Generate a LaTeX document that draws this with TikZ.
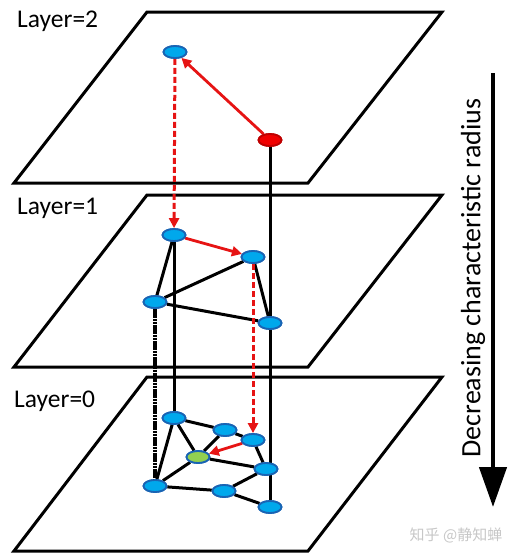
\documentclass[tikz,border=0pt]{standalone}
\usepackage{fontspec}
\setmainfont{Carlito}
\newfontfamily\cjk{Noto Sans CJK SC}
\usetikzlibrary{shapes.geometric,arrows.meta}
\definecolor{nodeblue}{RGB}{0,168,236}
\definecolor{nodeedge}{RGB}{25,100,180}
\definecolor{nodered}{RGB}{240,0,0}
\definecolor{rededge}{RGB}{190,0,0}
\definecolor{nodegreen}{RGB}{146,208,80}
\definecolor{arrred}{RGB}{230,20,20}
\tikzset{
  plane/.style={draw=black,line width=3pt,line join=miter},
  vnode/.style={ellipse,draw=nodeedge,fill=nodeblue,line width=1.8pt,minimum width=23pt,minimum height=12pt,inner sep=0pt},
  rnode/.style={vnode,draw=rededge,fill=nodered},
  gnode/.style={vnode,fill=nodegreen},
  edge/.style={draw=black,line width=3pt},
  vline/.style={draw=black,line width=3pt},
  dotline/.style={draw=black,line width=3.2pt,dash pattern=on 2.6pt off 0.6pt},
  search/.style={draw=arrred,line width=2.8pt,-{Triangle[width=10pt,length=10pt]}},
  descend/.style={draw=arrred,line width=3pt,dash pattern=on 6pt off 3pt,-{Triangle[width=10pt,length=10pt]}},
  lab/.style={font=\fontsize{25.5}{27}\selectfont,anchor=west,inner sep=0pt}
}
\begin{document}
\begin{tikzpicture}[x=1pt,y=-1pt]
\useasboundingbox (0,0) rectangle (517,558);
% planes
\draw[plane] (147,12) -- (442,12) -- (308,183) -- (14,183) -- cycle;
\draw[plane] (147,195) -- (442,195) -- (308,367) -- (14,367) -- cycle;
\draw[plane] (147,377) -- (442,377) -- (308,551) -- (14,551) -- cycle;
% labels
\node[lab] (l2) at (17,21) {Layer=2};
\node[lab] (l1) at (17,208) {Layer=1};
\node[lab] (l0) at (14,401) {Layer=0};
% nodes layer 2
\node[vnode] (t1) at (175,52) {};
\node[rnode] (t2) at (270,140) {};
% layer 1
\node[vnode] (a) at (174,235) {};
\node[vnode] (b) at (253,257) {};
\node[vnode] (c) at (155,302) {};
\node[vnode] (d) at (270,323) {};
% layer 0
\node[vnode] (p1) at (174,418) {};
\node[vnode] (p2) at (225,430) {};
\node[vnode] (p3) at (253,440) {};
\node[gnode] (g) at (198,457) {};
\node[vnode] (p5) at (266,469) {};
\node[vnode] (p6) at (155,486) {};
\node[vnode] (p7) at (224,491) {};
\node[vnode] (p8) at (270,507) {};
% vertical links
\draw[vline] (t2) -- (d);
\draw[vline] (d) -- (p8);
\draw[vline] (a) -- (p1);
\draw[dotline] (c) -- (p6);
% layer 1 edges
\draw[edge] (a) -- (c);
\draw[edge] (b) -- (c);
\draw[edge] (c) -- (d);
\draw[edge] (b) -- (d);
% layer 0 edges
\draw[edge] (p1) -- (p2);
\draw[edge] (p2) -- (p3);
\draw[edge] (p1) -- (g);
\draw[edge] (p1) -- (p6);
\draw[edge] (p2) -- (g);
\draw[edge] (g) -- (p6);
\draw[edge] (g) -- (p5);
\draw[edge] (p3) -- (p5);
\draw[edge] (p5) -- (p7);
\draw[edge] (p6) -- (p7);
\draw[edge] (p7) -- (p8);
% search path
\draw[search] (t2) -- (t1);
\draw[descend] (t1) -- (a);
\draw[search] (a) -- (b);
\draw[descend] (b) -- (p3);
\draw[search] (p3) -- (g);
% redraw nodes on top
\foreach \n in {t1,a,b,c,d,p1,p2,p3,p5,p6,p7,p8} {\node[vnode] at (\n) {};}
\node[rnode] at (t2) {};
\node[gnode] at (g) {};
% big arrow
\coordinate (atop) at (493,73);
\coordinate (abot) at (493,507);
\draw[line width=4.5pt,-{Triangle[width=27pt,length=40pt]}] (atop) -- (abot);
\node[rotate=90,font=\fontsize{28}{30}\selectfont,inner sep=0pt] (rad) at (473,278) {Decreasing characteristic radius};
% watermark
\node[font=\cjk\fontsize{15}{17}\selectfont,text=black!22,inner sep=0pt] (wm) at (456,535) {知乎 @静知蝉};
\end{tikzpicture}
\end{document}
